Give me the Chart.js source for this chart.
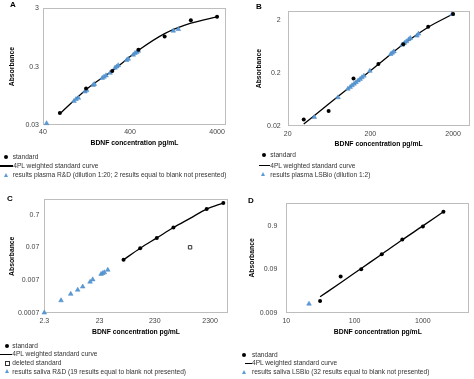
<!DOCTYPE html>
<html><head><meta charset="utf-8">
<script src="https://cdn.jsdelivr.net/npm/chart.js@4/dist/chart.umd.min.js"></script>
<style>
html,body{margin:0;padding:0;background:#fff;}
body{width:474px;height:379px;position:relative;overflow:hidden;font-family:"Liberation Sans",Arial,sans-serif;}
.panel{position:absolute;width:237px;}
.panel canvas{position:absolute;left:0;top:0;}
.letter{position:absolute;font-weight:bold;font-size:8px;color:#000;line-height:1;}
.legt{position:absolute;font-size:6.6px;color:#333;white-space:nowrap;line-height:1;transform:translateY(-50%);}
.mk{position:absolute;}
</style>
</head><body>
<div class="panel" id="pA" style="left:0;top:0;height:190px;"><canvas id="cA" width="237" height="190"></canvas></div>
<div class="panel" id="pB" style="left:237px;top:0;height:190px;"><canvas id="cB" width="237" height="190"></canvas></div>
<div class="panel" id="pC" style="left:0;top:190px;height:189px;"><canvas id="cC" width="237" height="189"></canvas></div>
<div class="panel" id="pD" style="left:237px;top:190px;height:189px;"><canvas id="cD" width="237" height="189"></canvas></div>
<script>
// ---------------- DATA ----------------
const xTitle = 'BDNF concentration pg/mL';
const yTitle = 'Absorbance';

// Panel A
const aStdX = [62.5, 125, 250, 500, 1000, 2000, 4000];
const aStdY = [0.048, 0.127, 0.251, 0.585, 0.98, 1.86, 2.14];
const aCurveX = [62.5, 125, 250, 500, 1000, 2000, 4000];
const aCurveY = [0.047, 0.121, 0.255, 0.57, 1.1, 1.66, 2.14];
const aResX = [44, 90.8, 95.8, 101.9, 121.5, 127, 151, 155.5, 192, 201, 212, 236, 269, 281, 293, 366, 382, 436, 456, 478, 498, 1258, 1436];
const aResY = [0.032, 0.077, 0.083, 0.087, 0.112, 0.118, 0.145, 0.150, 0.191, 0.200, 0.211, 0.233, 0.286, 0.300, 0.315, 0.387, 0.406, 0.477, 0.509, 0.528, 0.555, 1.23, 1.31];
const aXTicks = [40, 400, 4000];
const aXLabels = ['40', '400', '4000'];
const aYTicks = [0.03, 0.3, 3];
const aYLabels = ['0.03', '0.3', '3'];
const aLegend = ['standard', '4PL weighted standard curve', 'results plasma R&D (dilution 1:20; 2 results equal to blank not presented)'];

// Panel B
const bStdX = [31.25, 62.5, 125, 250, 500, 1000, 2000];
const bStdY = [0.0266, 0.0385, 0.156, 0.294, 0.69, 1.48, 2.57];
const bCurveX = [31.25, 62.5, 125, 250, 500, 1000, 2000];
const bCurveY = [0.0217, 0.052, 0.122, 0.29, 0.69, 1.45, 2.57];
const bResX = [42, 81.2, 106.9, 113.9, 120, 127, 134, 142, 150, 158, 167, 197, 352, 368, 385, 484, 516, 546, 581, 608, 731, 764, 1946];
const bResY = [0.0293, 0.069, 0.100, 0.108, 0.116, 0.124, 0.133, 0.143, 0.153, 0.164, 0.176, 0.217, 0.45, 0.476, 0.504, 0.674, 0.73, 0.78, 0.85, 0.90, 1.0, 1.09, 2.55];
const bXTicks = [20, 200, 2000];
const bXLabels = ['20', '200', '2000'];
const bYTicks = [0.02, 0.2, 2];
const bYLabels = ['0.02', '0.2', '2'];
const bLegend = ['standard', '4PL weighted standard curve', 'results plasma LSBio (dilution 1:2)'];

// Panel C
const cStdX = [62.5, 125, 250, 500, 2000, 4000];
const cStdY = [0.0297, 0.0667, 0.137, 0.283, 1.03, 1.57];
const cDelX = [1000];
const cDelY = [0.071];
const cCurveX = [62.5, 125, 250, 500, 1000, 2000, 4000];
const cCurveY = [0.0297, 0.0667, 0.137, 0.283, 0.54, 1.03, 1.57];
const cResX = [2.3, 4.62, 6.92, 9.26, 11.4, 15.5, 17.3, 24.5, 26.3, 28.1, 32.4];
const cResY = [0.00073, 0.00172, 0.0027, 0.00361, 0.00451, 0.00633, 0.00743, 0.0109, 0.0116, 0.0122, 0.0146];
const cXTicks = [2.3, 23, 230, 2300];
const cXLabels = ['2.3', '23', '230', '2300'];
const cYTicks = [0.0007, 0.007, 0.07, 0.7];
const cYLabels = ['0.0007', '0.007', '0.07', '0.7'];
const cLegend = ['standard', '4PL weighted standard curve', 'deleted standard', 'results saliva R&D (19 results equal to blank not presented)'];

// Panel D
const dStdX = [31.25, 62.5, 125, 250, 500, 1000, 2000];
const dStdY = [0.0167, 0.0615, 0.09, 0.2, 0.44, 0.87, 1.91];
const dCurveX = [31.25, 62.5, 125, 250, 500, 1000, 2000];
const dCurveY = [0.021, 0.044, 0.094, 0.2, 0.43, 0.9, 1.91];
const dResX = [21.5];
const dResY = [0.0144];
const dXTicks = [10, 100, 1000];
const dXLabels = ['10', '100', '1000'];
const dYTicks = [0.009, 0.09, 0.9];
const dYLabels = ['0.009', '0.09', '0.9'];
const dLegend = ['standard', '4PL weighted standard curve', 'results saliva LSBio (32 results equal to blank not presented)'];

// ---------------- RENDER ----------------
Chart.defaults.font.family = "'Liberation Sans', Arial, sans-serif";
const zip = (xs, ys) => xs.map((x, i) => ({x: x, y: ys[i]}));
const BLUE = '#5b9bd5';

const boxPlugin = {
  id: 'box',
  beforeDatasetsDraw(chart) {
    const {ctx, chartArea: a} = chart;
    ctx.save();
    ctx.strokeStyle = '#bdbdbd';
    ctx.lineWidth = 1;
    const l = Math.round(a.left) + 0.5, t = Math.round(a.top) + 0.5;
    const r = Math.round(a.right) - 0.5, b = Math.round(a.bottom) - 0.5;
    ctx.strokeRect(l, t, r - l, b - t);
    ctx.restore();
  }
};

function build(id, p) {
  const ds = [
    {data: zip(p.stdX, p.stdY), pointStyle: 'circle', pointRadius: 2, backgroundColor: '#000', borderColor: '#000', borderWidth: 0, order: 1, clip: false},
    {data: zip(p.curveX, p.curveY), showLine: true, pointRadius: 0, borderColor: '#000', borderWidth: 1.3, cubicInterpolationMode: 'monotone', order: 4},
    {data: zip(p.resX, p.resY), pointStyle: 'triangle', pointRadius: 2.7, backgroundColor: BLUE, borderColor: '#4a88c6', borderWidth: 0.5, order: 3, clip: false}
  ];
  if (p.delX) ds.push({data: zip(p.delX, p.delY), pointStyle: 'rect', pointRadius: 2.4, backgroundColor: '#fff', borderColor: '#333', borderWidth: 1, order: 2});
  const tickFont = {size: 7};
  return new Chart(document.getElementById(id), {
    type: 'scatter',
    data: {datasets: ds},
    options: {
      responsive: false, animation: false, devicePixelRatio: 1,
      layout: {padding: {left: 0, right: p.padR, top: p.padT, bottom: p.padB}},
      plugins: {legend: {display: false}, tooltip: {enabled: false}},
      scales: {
        x: {
          type: 'logarithmic', min: p.xMin, max: p.xMax,
          afterBuildTicks: s => { s.ticks = p.xTicks.map(v => ({value: v})); },
          afterFit: s => { s.height = 25; },
          grid: {display: false, drawTicks: false}, border: {display: false},
          ticks: {autoSkip: false, maxRotation: 0, padding: p.xTickPad, font: tickFont, color: '#444',
                  callback: (v, i) => p.xLabels[p.xTicks.indexOf(v)] ?? p.xLabels[i]},
          title: {display: true, text: xTitle, color: '#000', font: {size: 6.8, weight: 'bold'}, padding: {top: 0, bottom: p.xTitlePad}}
        },
        y: {
          type: 'logarithmic', min: p.yMin, max: p.yMax,
          afterBuildTicks: s => { s.ticks = p.yTicks.map(v => ({value: v})); },
          afterFit: s => { s.width = p.yW; },
          grid: {display: false, drawTicks: false}, border: {display: false},
          ticks: {autoSkip: false, padding: p.yTickPad, font: tickFont, color: '#444',
                  callback: (v, i) => p.yLabels[p.yTicks.indexOf(v)] ?? p.yLabels[i]},
          title: {display: true, text: yTitle, color: '#000', font: {size: 6.8, weight: 'bold'}, padding: {top: p.yTitlePad, bottom: 0}}
        }
      }
    },
    plugins: [boxPlugin]
  });
}

build('cA', {stdX: aStdX, stdY: aStdY, curveX: aCurveX, curveY: aCurveY, resX: aResX, resY: aResY,
  xMin: 40, xMax: 5070, yMin: 0.03, yMax: 3, xTicks: aXTicks, xLabels: aXLabels, yTicks: aYTicks, yLabels: aYLabels,
  yW: 43, padR: 11, padT: 3, padB: 40, xTickPad: 2.5, yTickPad: 4, xTitlePad: 2.7, yTitlePad: 7.7});
build('cB', {stdX: bStdX, stdY: bStdY, curveX: bCurveX, curveY: bCurveY, resX: bResX, resY: bResY,
  xMin: 20, xMax: 3160, yMin: 0.02, yMax: 2.9, xTicks: bXTicks, xLabels: bXLabels, yTicks: bYTicks, yLabels: bYLabels,
  yW: 50.7, padR: 2, padT: 4, padB: 39, xTickPad: 4, yTickPad: 7, xTitlePad: 3, yTitlePad: 17.7});
build('cC', {stdX: cStdX, stdY: cStdY, curveX: cCurveX, curveY: cCurveY, resX: cResX, resY: cResY, delX: cDelX, delY: cDelY,
  xMin: 2.3, xMax: 4800, yMin: 0.0007, yMax: 2.06, xTicks: cXTicks, xLabels: cXLabels, yTicks: cYTicks, yLabels: cYLabels,
  yW: 44.3, padR: 9.3, padT: 5, padB: 40.7, xTickPad: 3.5, yTickPad: 5, xTitlePad: 2.6, yTitlePad: 7.7});
build('cD', {stdX: dStdX, stdY: dStdY, curveX: dCurveX, curveY: dCurveY, resX: dResX, resY: dResY,
  xMin: 10, xMax: 4786, yMin: 0.009, yMax: 3.0, xTicks: dXTicks, xLabels: dXLabels, yTicks: dYTicks, yLabels: dYLabels,
  yW: 49.3, padR: 4.7, padT: 6.7, padB: 41.3, xTickPad: 3.8, yTickPad: 9, xTitlePad: 2, yTitlePad: 11});

// ---------------- LEGENDS & LETTERS ----------------
function marker(panel, kind, cx, cy, x2) {
  const m = document.createElement('div');
  m.className = 'mk';
  if (kind === 'dot') {
    Object.assign(m.style, {left: (cx - 2) + 'px', top: (cy - 2) + 'px', width: '4px', height: '4px', borderRadius: '50%', background: '#000'});
  } else if (kind === 'line') {
    Object.assign(m.style, {left: cx + 'px', top: (cy - 0.6) + 'px', width: (x2 - cx) + 'px', height: '1.3px', background: '#000'});
  } else if (kind === 'tri') {
    Object.assign(m.style, {left: (cx - 2.5) + 'px', top: (cy - 2.3) + 'px', width: 0, height: 0,
      borderLeft: '2.5px solid transparent', borderRight: '2.5px solid transparent', borderBottom: '4.5px solid ' + BLUE});
  } else if (kind === 'sq') {
    Object.assign(m.style, {left: (cx - 2.2) + 'px', top: (cy - 2.2) + 'px', width: '3px', height: '3px', border: '0.9px solid #333', background: '#fff'});
  }
  panel.appendChild(m);
}
function text(panel, s, x, y) {
  const t = document.createElement('div');
  t.className = 'legt'; t.textContent = s;
  t.style.left = x + 'px'; t.style.top = y + 'px';
  panel.appendChild(t);
}
function letter(panel, s, x, y) {
  const t = document.createElement('div');
  t.className = 'letter'; t.textContent = s;
  t.style.left = x + 'px'; t.style.top = y + 'px';
  panel.appendChild(t);
}
const pA = document.getElementById('pA'), pB = document.getElementById('pB'),
      pC = document.getElementById('pC'), pD = document.getElementById('pD');

// A
marker(pA, 'dot', 6, 157); text(pA, aLegend[0], 12.7, 157);
marker(pA, 'line', 0, 166, 12.7); text(pA, aLegend[1], 13.3, 166);
marker(pA, 'tri', 6, 175); text(pA, aLegend[2], 12.7, 175);
letter(pA, 'A', 10, 1);
// B
marker(pB, 'dot', 26.7, 155); text(pB, bLegend[0], 33.3, 155);
marker(pB, 'line', 21.7, 165.7, 33.3); text(pB, bLegend[1], 33.3, 165.7);
marker(pB, 'tri', 26.7, 174.7); text(pB, bLegend[2], 33.3, 174.7);
letter(pB, 'B', 19, 3);
// C
marker(pC, 'dot', 7.3, 156); text(pC, cLegend[0], 12.3, 156);
marker(pC, 'line', 0, 164.3, 11.7); text(pC, cLegend[1], 12.3, 164.3);
marker(pC, 'sq', 7.3, 173.3); text(pC, cLegend[2], 12.3, 173.3);
marker(pC, 'tri', 7.3, 181.7); text(pC, cLegend[3], 12.3, 181.7);
letter(pC, 'C', 7, 5);
// D
marker(pD, 'dot', 7.3, 165); text(pD, dLegend[0], 15, 165);
marker(pD, 'line', 8.3, 173.3, 15); text(pD, dLegend[1], 15, 173.3);
marker(pD, 'tri', 7.3, 182.3); text(pD, dLegend[2], 15, 182.3);
letter(pD, 'D', 11, 7);
</script>
</body></html>
